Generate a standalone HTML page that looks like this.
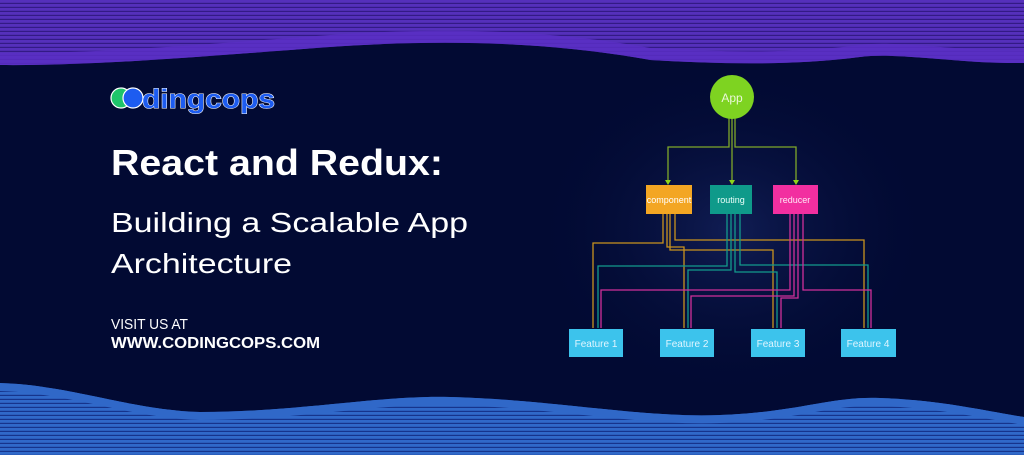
<!DOCTYPE html>
<html><head><meta charset="utf-8"><style>
html,body{margin:0;padding:0;width:1024px;height:455px;overflow:hidden;background:#020a33}
</style></head><body>
<svg width="1024" height="455" viewBox="0 0 1024 455" xmlns="http://www.w3.org/2000/svg" font-family="Liberation Sans, sans-serif">
<defs>
<pattern id="hp" width="8" height="4" patternUnits="userSpaceOnUse"><rect width="8" height="4" fill="#5530bb"/><rect y="2.8" width="8" height="1.2" fill="#331a85"/></pattern>
<pattern id="bp" width="8" height="4" patternUnits="userSpaceOnUse"><rect width="8" height="4" fill="#3069c9"/><rect y="2.8" width="8" height="1.2" fill="#16348c"/></pattern>
<radialGradient id="gl" cx="0.5" cy="0.5" r="0.5"><stop offset="0" stop-color="#1a2a6a" stop-opacity="0.6"/><stop offset="1" stop-color="#020a33" stop-opacity="0"/></radialGradient>
</defs>
<rect width="1024" height="455" fill="#020a33"/>
<path d="M0,0 H1024 V63 C960,64 900,52 860,57 C790,66 720,64 650,60 C540,40 430,40 330,47 C220,55 100,66 0,65 Z" fill="url(#hp)"/>
<path d="M0,65 C100,66 220,55 330,47 C430,40 540,40 650,60 C720,64 790,66 860,57 C900,52 960,64 1024,63 V50 C960,52 900,40 860,45 C790,54 720,52 650,48 C540,28 430,28 330,35 C220,43 100,54 0,53 Z" fill="#5a2fc4" opacity="0.85"/>
<path d="M0,383 C70,385 130,410 200,412 C300,412 380,395 450,397 C560,400 640,418 720,415 C800,412 830,396 880,398 C940,400 980,410 1024,417 V455 H0 Z" fill="url(#bp)"/>
<path d="M0,383 C70,385 130,410 200,412 C300,412 380,395 450,397 C560,400 640,418 720,415 C800,412 830,396 880,398 C940,400 980,410 1024,417 V425 C980,418 940,408 880,406 C830,404 800,420 720,423 C640,426 560,408 450,405 C380,403 300,420 200,420 C130,418 70,393 0,391 Z" fill="#3068c8"/>
<ellipse cx="732" cy="230" rx="200" ry="170" fill="url(#gl)"/>
<circle cx="121" cy="98" r="10" fill="#1ec46a" stroke="#fff" stroke-width="1.2"/>
<circle cx="133" cy="98" r="10" fill="#1d5cf0" stroke="#fff" stroke-width="1.2"/>
<text x="142" y="108" font-size="27" font-weight="bold" fill="#1d5cf0" stroke="#fff" stroke-width="1" paint-order="stroke" textLength="133" lengthAdjust="spacingAndGlyphs">dingcops</text>
<text x="111" y="175" font-size="36" font-weight="bold" fill="#fff" textLength="332" lengthAdjust="spacingAndGlyphs">React and Redux:</text>
<text x="111" y="232" font-size="28" fill="#fff" textLength="357" lengthAdjust="spacingAndGlyphs">Building a Scalable App</text>
<text x="111" y="273" font-size="28" fill="#fff" textLength="181" lengthAdjust="spacingAndGlyphs">Architecture</text>
<text x="111" y="329" font-size="15" fill="#fff" textLength="77" lengthAdjust="spacingAndGlyphs">VISIT US AT</text>
<text x="111" y="348" font-size="16" font-weight="bold" fill="#fff" textLength="209" lengthAdjust="spacingAndGlyphs">WWW.CODINGCOPS.COM</text>
<g fill="none" stroke-width="1.3">
<g stroke="#7fa82a">
<path d="M729,118 V147 H668 V183"/><path d="M732,118 V183"/><path d="M735,118 V147 H796 V183"/>
</g>
<g stroke="#c9931e">
<path d="M663,214 V243 H593 V328"/><path d="M667,214 V247 H684 V328"/><path d="M670,214 V250 H773 V328"/><path d="M675,214 V240 H864 V328"/>
</g>
<g stroke="#139a8c">
<path d="M727,214 V266 H598 V328"/><path d="M731,214 V270 H688 V328"/><path d="M735,214 V272 H777 V328"/><path d="M740,214 V265 H868 V328"/>
</g>
<g stroke="#d0309a">
<path d="M790,214 V290 H601 V328"/><path d="M794,214 V296 H691 V328"/><path d="M798,214 V298 H781 V328"/><path d="M803,214 V290 H871 V328"/>
</g>
</g>
<g fill="#8fd41a"><path d="M665,180 h6 l-3,5z"/><path d="M729,180 h6 l-3,5z"/><path d="M793,180 h6 l-3,5z"/></g>
<circle cx="732" cy="97" r="22" fill="#7ed321"/>
<text x="732" y="102" font-size="12" fill="#eaf7d8" text-anchor="middle">App</text>
<rect x="646" y="185" width="46" height="29" fill="#f3a623"/>
<text x="669" y="203" font-size="9" fill="#fff" text-anchor="middle">component</text>
<rect x="710" y="185" width="42" height="29" fill="#0f9a8a"/>
<text x="731" y="203" font-size="9" fill="#e8fff9" text-anchor="middle">routing</text>
<rect x="773" y="185" width="45" height="29" fill="#f22fa0"/>
<text x="795" y="203" font-size="9" fill="#ffe6f4" text-anchor="middle">reducer</text>
<g fill="#3cc3ec"><rect x="569" y="329" width="54" height="28"/><rect x="660" y="329" width="54" height="28"/><rect x="751" y="329" width="54" height="28"/><rect x="841" y="329" width="55" height="28"/></g>
<g font-size="10" fill="#dff5ff" text-anchor="middle">
<text x="596" y="347">Feature 1</text><text x="687" y="347">Feature 2</text><text x="778" y="347">Feature 3</text><text x="868" y="347">Feature 4</text>
</g>
</svg>
</body></html>
